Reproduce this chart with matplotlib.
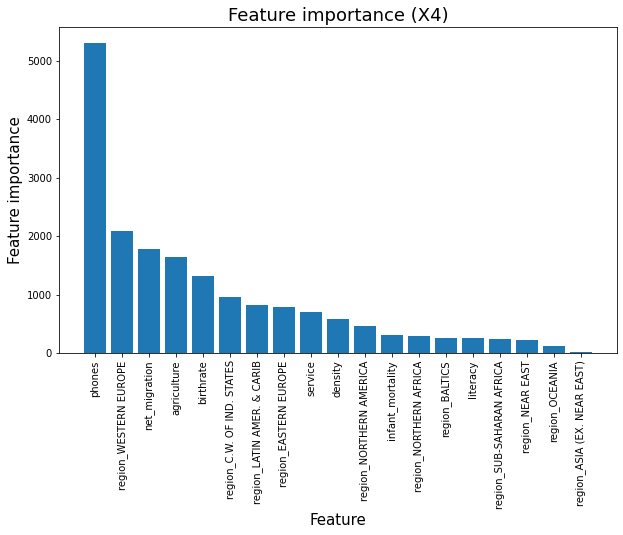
import matplotlib
matplotlib.use("Agg")
import matplotlib.pyplot as plt

features = ["phones", "region_WESTERN EUROPE", "net_migration", "agriculture", "birthrate",
            "region_C.W. OF IND. STATES", "region_LATIN AMER. & CARIB", "region_EASTERN EUROPE",
            "service", "density", "region_NORTHERN AMERICA", "infant_mortality",
            "region_NORTHERN AFRICA", "region_BALTICS", "literacy", "region_SUB-SAHARAN AFRICA",
            "region_NEAR EAST", "region_OCEANIA", "region_ASIA (EX. NEAR EAST)"]
importance = [5310, 2094, 1786, 1649, 1324, 964, 827, 793, 707, 588, 468, 314, 297, 263, 263,
              246, 228, 126, 23]

fig = plt.figure(figsize=(623/72, 535/72), dpi=72)
ax = fig.add_axes([59/623, (535-353.3)/535, 558/623, 326/535])
ax.bar(range(len(features)), importance, color="#1f77b4")
ax.set_xticks(range(len(features)))
ax.set_xticklabels(features, rotation=90)
ax.set_title("Feature importance (X4)", fontsize=18)
ax.set_xlabel("Feature", fontsize=15)
ax.set_ylabel("Feature importance", fontsize=15)
fig.savefig("out.png", dpi=72, facecolor="white")
